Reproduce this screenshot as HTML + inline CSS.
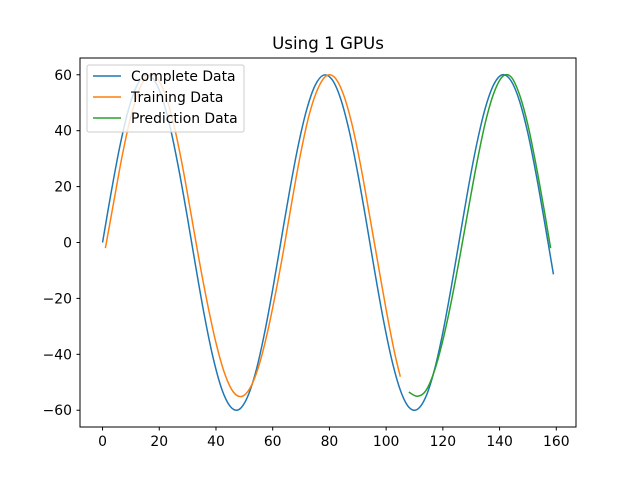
<!DOCTYPE html>
<html><head><meta charset="utf-8"><style>
body{margin:0;background:#fff}
text{font-family:"DejaVu Sans","Liberation Sans",sans-serif}
</style></head><body>
<svg id="chart" width="640" height="480" xmlns="http://www.w3.org/2000/svg">
<rect width="640" height="480" fill="#fff"/>
<text x="328" y="49" font-size="16.7" text-anchor="middle">Using 1 GPUs</text>
<g id="plot"></g>
<rect x="80" y="58" width="496" height="369" fill="none" stroke="#000" stroke-width="1"/>
<g id="ticks"></g>
<g>
<rect x="87" y="65" width="157" height="67" fill="#fff" fill-opacity="0.8" stroke="#ccc" rx="2"/>
<line x1="93" y1="76" x2="121" y2="76" stroke="#1f77b4" stroke-width="1.5"/>
<text x="131" y="81" font-size="13.9">Complete Data</text>
<line x1="93" y1="97" x2="121" y2="97" stroke="#ff7f0e" stroke-width="1.5"/>
<text x="131" y="102" font-size="13.9">Training Data</text>
<line x1="93" y1="118" x2="121" y2="118" stroke="#2ca02c" stroke-width="1.5"/>
<text x="131" y="123" font-size="13.9">Prediction Data</text>
</g>
</svg>
<script>
const completeX=[0,3,6,9,12,15,18,21,24,27,30,33,36,39,42,45,48,51,54,57,60,63,66,69,72,75,78,81,84,87,90,93,96,99,102,105,108,111,114,117,120,123,126,129,132,135,138,141,144,147,150,153,156,159];
const completeY=[0,17.7,33.9,47.0,55.9,59.8,58.4,51.8,40.5,25.6,8.5,-9.5,-26.6,-41.3,-52.3,-58.6,-59.8,-55.5,-46.4,-33.0,-16.8,1.0,18.7,34.7,47.6,56.3,59.9,58.2,51.3,39.8,24.7,7.5,-10.5,-27.5,-42.0,-52.8,-58.9,-59.7,-55.2,-45.7,-32.2,-15.8,2.0,19.7,35.5,48.2,56.6,60.0,57.9,50.7,39.0,23.8,6.5,-11.4];
const trainX=[1,4,7,10,13,16,19,22,25,28,31,34,37,40,43,46,49,52,55,58,61,64,67,70,73,76,79,82,85,88,91,94,97,100,103,105];
const trainY=[-2,14.8,31.4,45.1,54.8,59.6,59.0,53.2,42.7,28.3,11.4,-6.0,-21.9,-35.9,-46.7,-53.3,-55.1,-52.1,-44.5,-32.8,-18.2,-1.8,16.0,32.6,46.2,55.2,59.7,58.9,52.8,42.1,27.6,10.6,-6.8,-24.0,-39.5,-48];
const predX=[108,111,114,117,120,123,126,129,132,135,138,141,144,147,150,153,156,158];
const predY=[-53.5,-55,-53,-46,-35,-21,-5,12,28.5,43,53.5,59.3,59.3,53,42,27,10,-2];
const xTicks=[0,20,40,60,80,100,120,140,160];
const yTicks=[-60,-40,-20,0,20,40,60];
const NS="http://www.w3.org/2000/svg";
const x0=-7.95,x1=166.95,y0=-66,y1=66;
const sx=v=>80+(v-x0)/(x1-x0)*496;
const sy=v=>427-(v-y0)/(y1-y0)*369;
const plot=document.getElementById('plot'),ticks=document.getElementById('ticks');
function line(xs,ys,color,name){
  const P=xs.map((x,i)=>[sx(x),sy(ys[i])]);
  let d='M'+P[0][0].toFixed(2)+' '+P[0][1].toFixed(2);
  for(let i=0;i<P.length-1;i++){
    const p0=P[Math.max(0,i-1)],p1=P[i],p2=P[i+1],p3=P[Math.min(P.length-1,i+2)];
    const c1=[p1[0]+(p2[0]-p0[0])/6,p1[1]+(p2[1]-p0[1])/6];
    const c2=[p2[0]-(p3[0]-p1[0])/6,p2[1]-(p3[1]-p1[1])/6];
    d+='C'+c1[0].toFixed(2)+' '+c1[1].toFixed(2)+' '+c2[0].toFixed(2)+' '+c2[1].toFixed(2)+' '+p2[0].toFixed(2)+' '+p2[1].toFixed(2);
  }
  const p=document.createElementNS(NS,'path');
  p.setAttribute('d',d);
  p.setAttribute('fill','none');p.setAttribute('stroke',color);p.setAttribute('stroke-width','1.5');
  
  
  plot.appendChild(p);
}
line(completeX,completeY,'#1f77b4','complete-data-line');
line(trainX,trainY,'#ff7f0e','training-data-line');
line(predX,predY,'#2ca02c','prediction-data-line');
xTicks.forEach(t=>{
  const X=sx(t);
  const l=document.createElementNS(NS,'line');
  l.setAttribute('x1',X);l.setAttribute('x2',X);l.setAttribute('y1',427);l.setAttribute('y2',430.5);l.setAttribute('stroke','#000');
  
  
  ticks.appendChild(l);
  const tx=document.createElementNS(NS,'text');
  tx.setAttribute('x',X);tx.setAttribute('y',446);tx.setAttribute('font-size','13.9');tx.setAttribute('text-anchor','middle');
  tx.textContent=t;
  
  
  ticks.appendChild(tx);
});
yTicks.forEach(t=>{
  const Y=sy(t);
  const l=document.createElementNS(NS,'line');
  l.setAttribute('x1',76.5);l.setAttribute('x2',80);l.setAttribute('y1',Y);l.setAttribute('y2',Y);l.setAttribute('stroke','#000');
  
  
  ticks.appendChild(l);
  const tx=document.createElementNS(NS,'text');
  tx.setAttribute('x',72);tx.setAttribute('y',Y+5);tx.setAttribute('font-size','13.9');tx.setAttribute('text-anchor','end');
  tx.textContent=t<0?'\u2212'+(-t):t;
  
  
  ticks.appendChild(tx);
});
</script>
</body></html>
